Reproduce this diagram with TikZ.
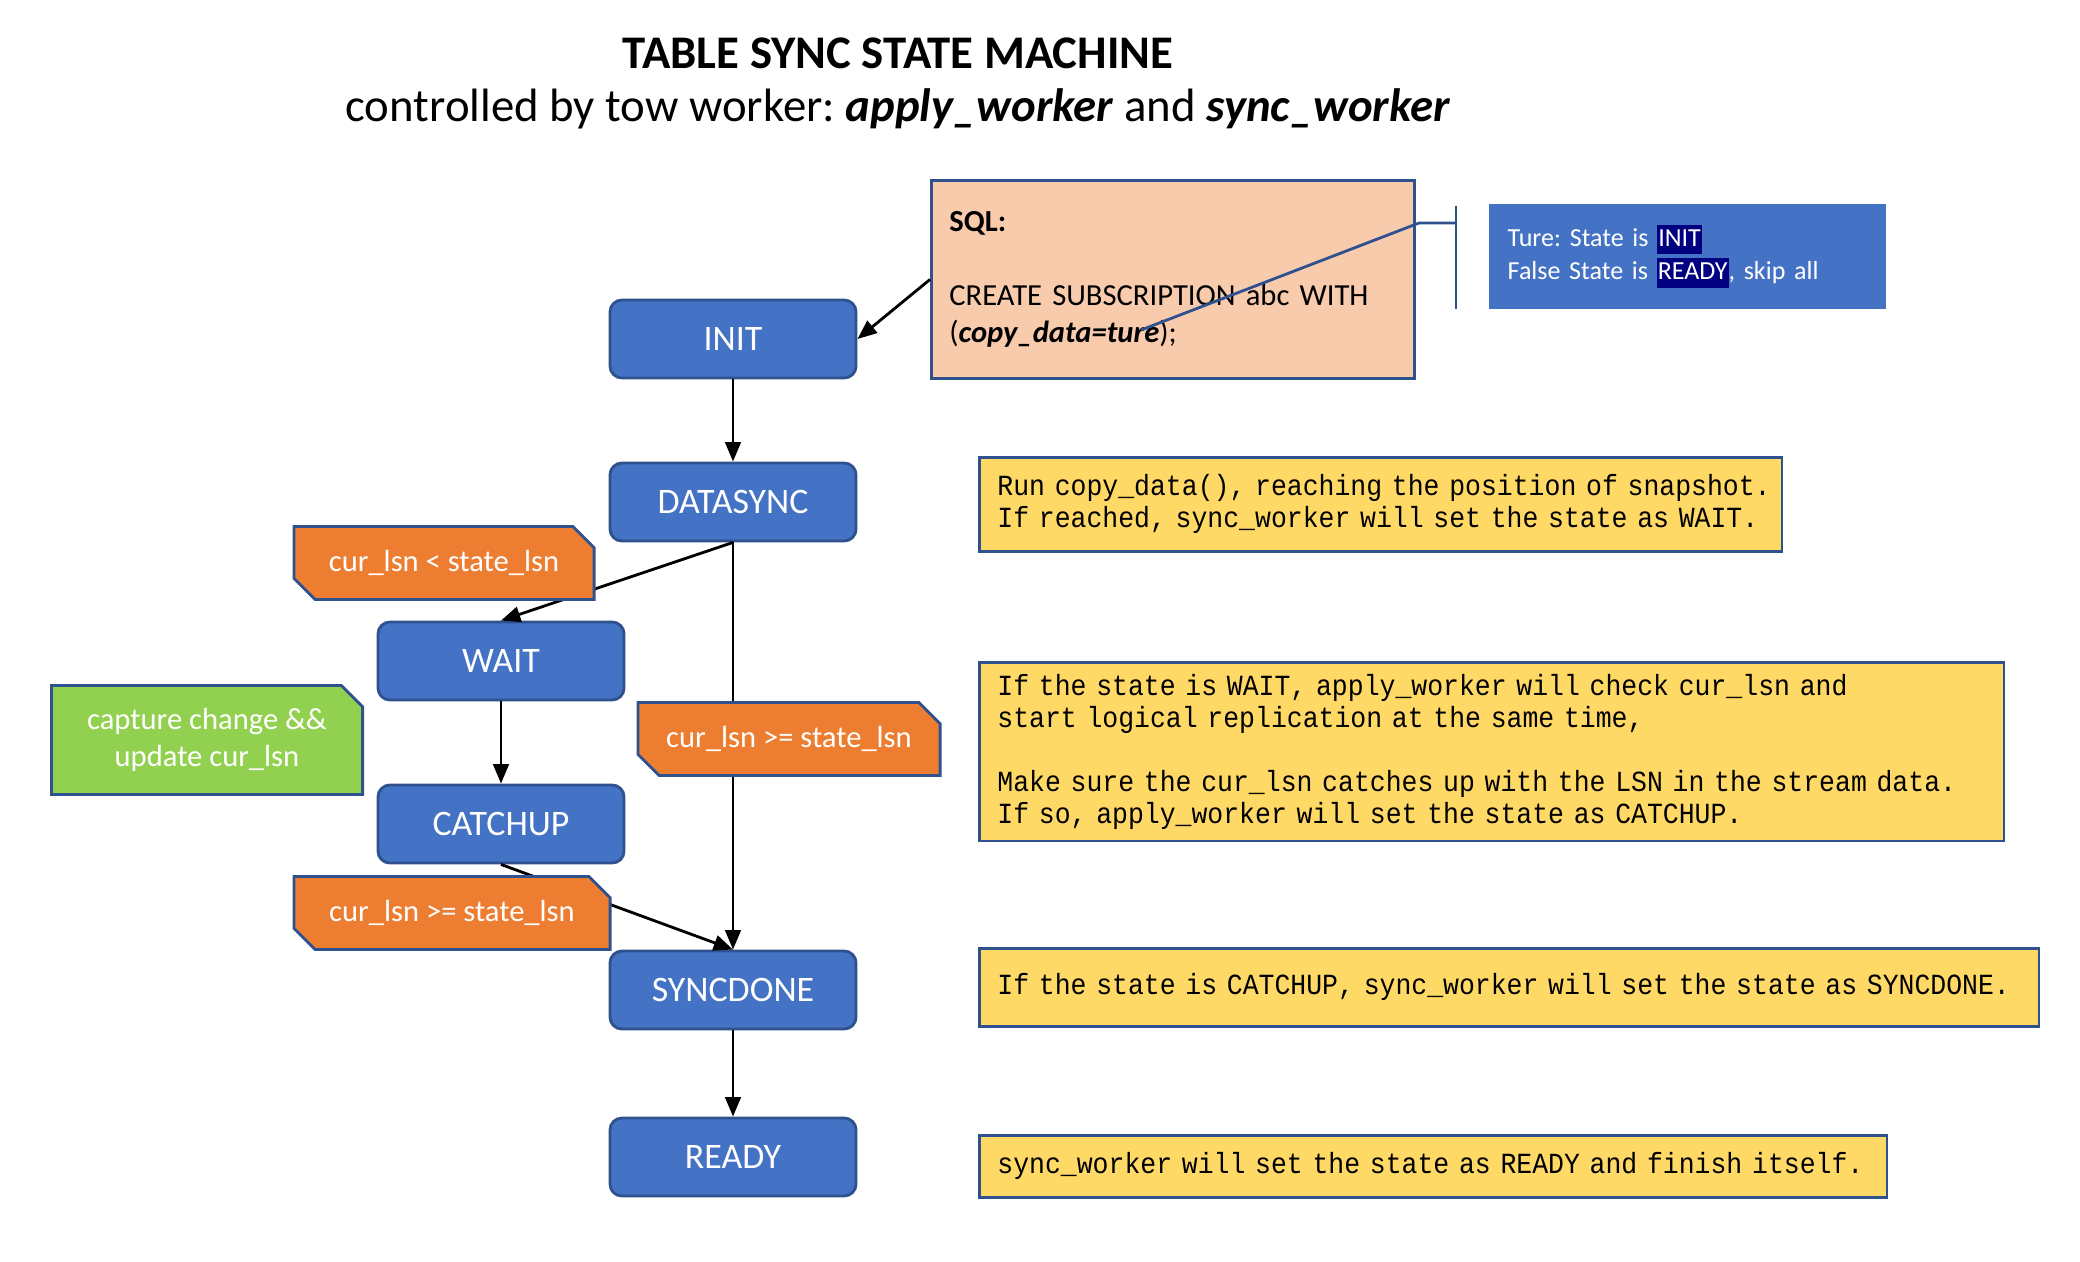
\documentclass[tikz,border=0pt]{standalone}
\usepackage{fontspec}
\setmainfont{Carlito}
\newfontfamily\codefont[FakeStretch=0.907]{Liberation Mono}
\usetikzlibrary{arrows.meta,calc,shapes.misc}
\definecolor{stateblue}{HTML}{4472C4}
\definecolor{edgeblue}{HTML}{2F528F}
\definecolor{sqlpeach}{HTML}{F8CBAD}
\definecolor{noteyellow}{HTML}{FFD966}
\definecolor{condorange}{HTML}{ED7D31}
\definecolor{capgreen}{HTML}{92D050}
\definecolor{hlnavy}{HTML}{000080}
\newcommand\hlword[1]{{\setlength\fboxsep{0.3pt}\colorbox{hlnavy}{\rule[-2.1pt]{0pt}{7.8pt}#1}}}
\tikzset{
  statebox/.style={draw=edgeblue, fill=stateblue, line width=0.8pt, rounded corners=0.12cm,
    minimum width=2.46cm, minimum height=0.78cm, text=white, font=\fontsize{10.2}{12}\selectfont},
  condtag/.style={chamfered rectangle, chamfered rectangle corners={north east,south west},
    chamfered rectangle xsep=0.1cm, draw=edgeblue, fill=condorange, line width=0.8pt,
    minimum height=0.73cm, text=white, font=\fontsize{8.7}{10.5}\selectfont},
  notebox/.style={draw=edgeblue, fill=noteyellow, line width=0.8pt, anchor=north west,
    inner xsep=0.18cm, align=left, font=\codefont\fontsize{8.3}{9.1}\selectfont},
  flow/.style={draw=black, line width=0.8pt, -{Triangle[length=5.5pt,width=4.4pt]}},
  calloutline/.style={draw=edgeblue, line width=0.8pt}
}

\begin{document}
\frenchspacing
\begin{tikzpicture}[x=0.01cm, y=-0.01cm]
			%%%%% START %%%%%
			\useasboundingbox (0,0) rectangle (2080,1261);
			
			\node[anchor=base, font=\fontsize{13.3}{15}\selectfont\bfseries] (title) at (898,69) {TABLE SYNC STATE MACHINE};
			\node[anchor=base, font=\fontsize{13.3}{15}\selectfont] (subtitle) at (898,122) {controlled by tow worker: \textbf{\textit{apply\_worker}} and \textbf{\textit{sync\_worker}}};
			
			\node[statebox] (init) at (733,339) {INIT};
			\node[statebox] (datasync) at (733,502) {DATASYNC};
			\node[statebox] (wait) at (501,661) {WAIT};
			\node[statebox] (catchup) at (501,824) {CATCHUP};
			\node[statebox] (syncdone) at (733,990) {SYNCDONE};
			\node[statebox] (ready) at (733,1157) {READY};
			
			\node[draw=edgeblue, fill=sqlpeach, line width=0.8pt, anchor=north west, minimum height=1.98cm,
				text width=4.47cm, inner xsep=0.18cm, align=left, font=\fontsize{8.7}{10.5}\selectfont] (sql) at (930,179)
				{\textbf{SQL:}\\[10.5pt]CREATE SUBSCRIPTION abc WITH\\(\textbf{\textit{copy\_data=ture}});};
			
			\draw[flow] (sql.west) -- (init.east);
			\draw[flow] (init) -- (datasync);
			\draw[flow] (datasync.south) -- (wait.north);
			\draw[flow] (datasync.south) -- (syncdone.north);
			\draw[flow] (wait) -- (catchup);
			\draw[flow] (catchup.south) -- (syncdone.north);
			\draw[flow] (syncdone) -- (ready);
			
			\node[condtag, minimum width=3.0cm] (lessTag) at (444,563) {cur\_lsn < state\_lsn};
			\node[condtag, minimum width=3.02cm] (reachTag) at (789,739) {cur\_lsn >= state\_lsn};
			\node[condtag, minimum width=3.16cm] (catchTag) at (452,913) {cur\_lsn >= state\_lsn};
			\node[chamfered rectangle, chamfered rectangle corners={north east}, chamfered rectangle xsep=0.1cm,
				draw=edgeblue, fill=capgreen, line width=0.8pt, minimum width=3.11cm, minimum height=0.95cm,
				text=white, align=center, font=\fontsize{8.7}{10.5}\selectfont] (capture) at (207,740) {capture change \&\&\\update cur\_lsn};
			
			% callout on the sql box
			\node[fill=stateblue, anchor=north west, minimum height=1.05cm, text width=3.59cm, inner xsep=0.19cm,
				align=left, text=white, font=\fontsize{7.4}{9.4}\selectfont] (hint) at (1488,203)
				{Ture: State is \hlword{INIT}\\False State is \hlword{READY}, skip all};
			\coordinate (hintTip) at (1141,330);
			\draw[calloutline] ($(hint.north west)+(-32,3)$) -- ($(hint.south west)+(-32,0)$);
			\draw[calloutline] ($(hint.north west)+(-32,20)$) -- ++(-37,0) -- (hintTip);
			
			\node[notebox, minimum height=0.94cm, text width=7.66cm] (noteData) at (978,456)
				{\mbox{Run copy\_data(), reaching the position of snapshot.}\\\mbox{If reached, sync\_worker will set the state as WAIT.}};
			\node[notebox, minimum height=1.73cm, text width=9.88cm] (noteWait) at (978,661)
				{If the state is WAIT, apply\_worker will check cur\_lsn and\\start logical replication at the same time,\\[9.1pt]\mbox{Make sure the cur\_lsn catches up with the LSN in the stream data.}\\If so, apply\_worker will set the state as CATCHUP.};
			\node[notebox, minimum height=0.78cm, text width=10.23cm] (noteCatch) at (978,947)
				{\mbox{If the state is CATCHUP, sync\_worker will set the state as SYNCDONE.}};
			\node[notebox, minimum height=0.62cm, text width=8.71cm] (noteReady) at (978,1134)
				{sync\_worker will set the state as READY and finish itself.};
			
			%%%%% END %%%%%
\end{tikzpicture}
\end{document}
